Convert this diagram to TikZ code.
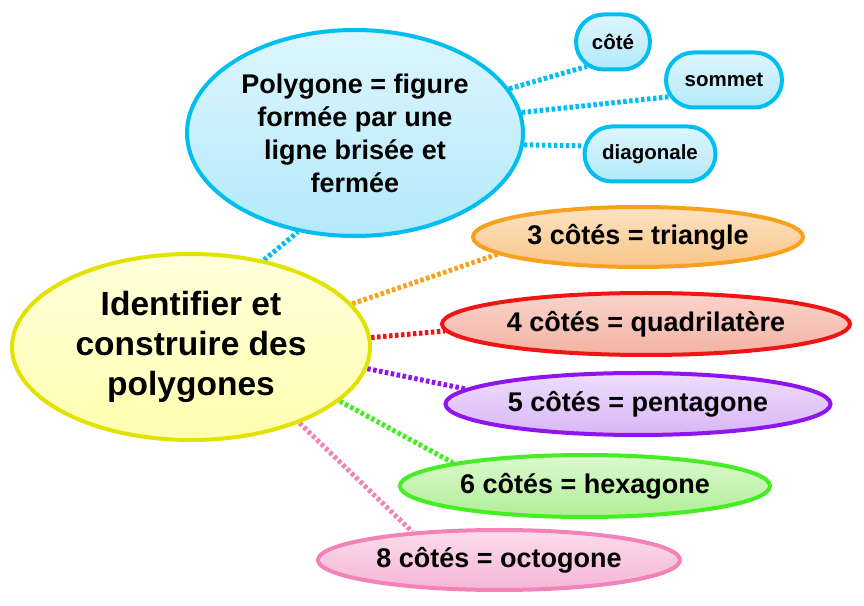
\documentclass[tikz,border=0pt]{standalone}
\usepackage{fontspec}
\setmainfont{Liberation Sans}
\usetikzlibrary{shapes.geometric,shapes.misc,backgrounds}

\definecolor{yline}{HTML}{E2E200}
\definecolor{ytop}{HTML}{FFFFDC}
\definecolor{yfill}{HTML}{FFFFB0}
\definecolor{bline}{HTML}{00BEF0}
\definecolor{btop}{HTML}{DDF6FD}
\definecolor{bfill}{HTML}{B3E9FA}
\definecolor{oline}{HTML}{F8A11C}
\definecolor{otop}{HTML}{FDE3C2}
\definecolor{ofill}{HTML}{F9C588}
\definecolor{rline}{HTML}{F01414}
\definecolor{rtop}{HTML}{F9D4CA}
\definecolor{rfill}{HTML}{F3B2A3}
\definecolor{pline}{HTML}{8E14F0}
\definecolor{ptop}{HTML}{EEDDFC}
\definecolor{pfill}{HTML}{D8B6F7}
\definecolor{gline}{HTML}{44EE22}
\definecolor{gtop}{HTML}{DCF9CF}
\definecolor{gfill}{HTML}{B0EE96}
\definecolor{kline}{HTML}{F282B8}
\definecolor{ktop}{HTML}{FBDCEB}
\definecolor{kfill}{HTML}{F5B6D6}

\begin{document}
\begin{tikzpicture}[x=1pt,y=1pt,
	oval/.style={ellipse,draw=#1line,line width=4pt,top color=#1top,bottom color=#1fill,
		inner sep=0pt,minimum height=62pt,font=\bfseries\fontsize{27}{31}\selectfont},
	pill/.style={rounded rectangle,draw=bline,line width=4pt,top color=btop,bottom color=bfill,
		inner sep=0pt,minimum height=55pt,font=\bfseries\fontsize{20.5}{24}\selectfont},
	link/.style={line width=5pt,dash pattern=on 3.5pt off 2.5pt}]

\useasboundingbox (0,0) rectangle (864,605);

\node[oval=y,minimum width=358pt,minimum height=186pt,align=center,
	font=\bfseries\fontsize{33.5}{40}\selectfont] (main) at (191,258)
	{Identifier et\\construire des\\polygones};
\node[oval=b,minimum width=336pt,minimum height=206pt,align=center,
	font=\bfseries\fontsize{27}{33}\selectfont] (def) at (355,472)
	{Polygone = figure\\formée par une\\ligne brisée et\\fermée};

\node[pill,minimum width=74pt] (side) at (613,563) {côté};
\node[pill,minimum width=116pt] (vertex) at (724,525) {sommet};
\node[pill,minimum width=131pt] (diag) at (650,451) {diagonale};

\node[oval=o,minimum width=330pt,minimum height=60pt] (tri) at (638,368) {3 côtés = triangle};
\node[oval=r,minimum width=408pt] (quad) at (646,281) {4 côtés = quadrilatère};
\node[oval=p,minimum width=385pt] (penta) at (638,201) {5 côtés = pentagone};
\node[oval=g,minimum width=370pt] (hexa) at (585,119) {6 côtés = hexagone};
\node[oval=k,minimum width=362pt,minimum height=60pt] (octo) at (499,45) {8 côtés = octogone};

\begin{scope}[on background layer]
\fill[white] (0,0) rectangle (864,605);
\path[link,bline]
	(main.50) edge (def.240)
	(def.16) edge (side.223)
	(def.7) edge (vertex.197)
	(def.356) edge (diag.173)
;
\path[link,oline] (main.15) edge (tri.187);
\path[link,rline] (main.3) edge (quad.182);
\path[link,pline] (main.353) edge (penta.175);
\path[link,gline] (main.340) edge (hexa.170);
\path[link,kline] (main.325) edge (octo.162);
\end{scope}

\end{tikzpicture}
\end{document}
